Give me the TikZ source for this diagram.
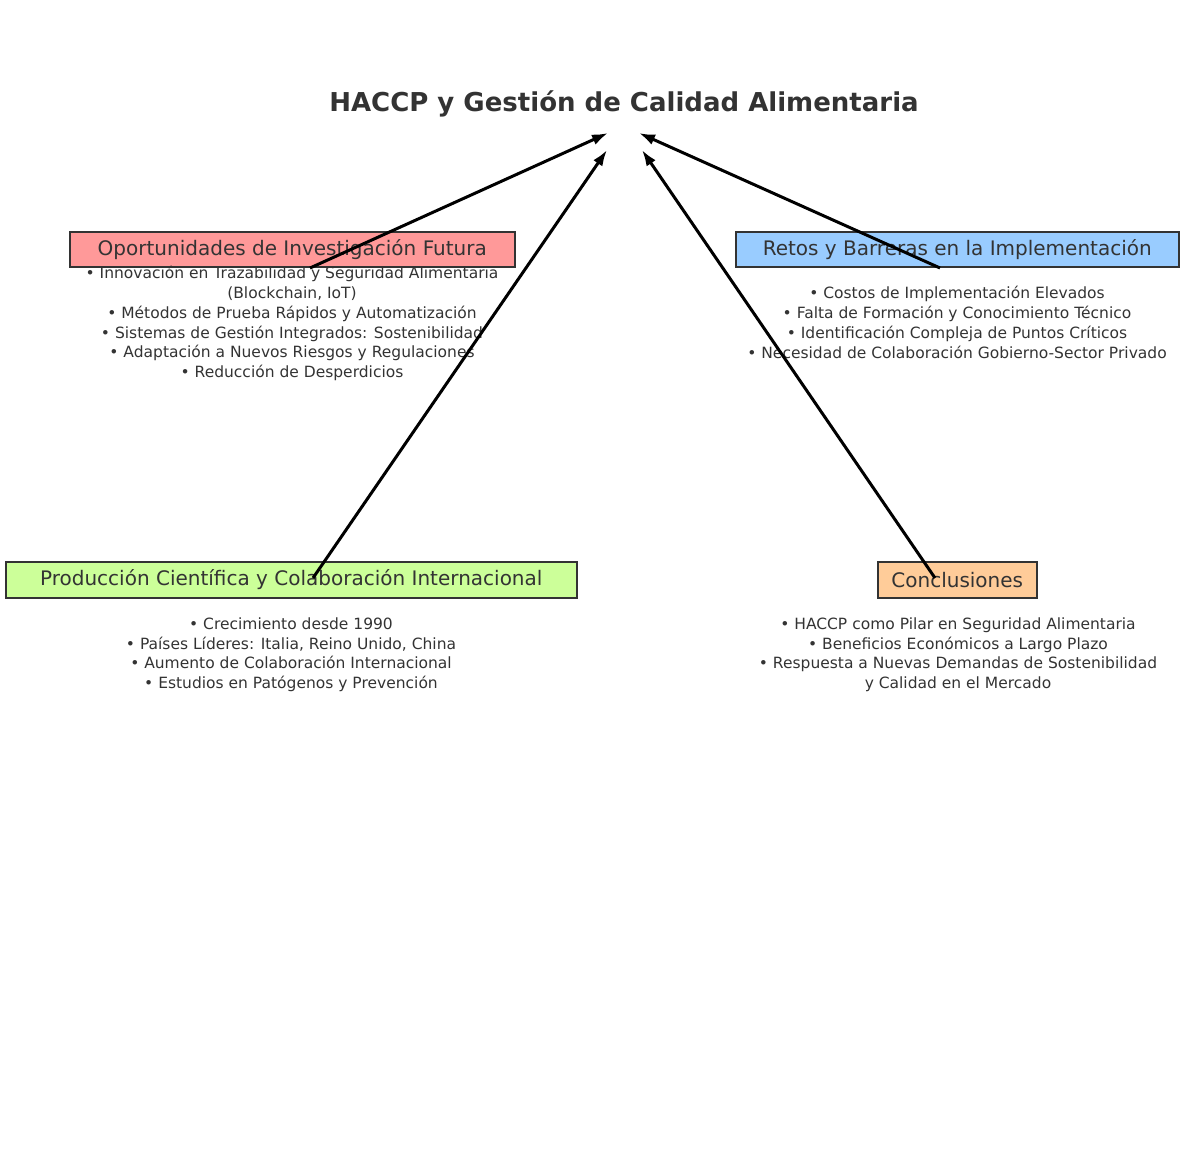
\documentclass[tikz,border=0pt]{standalone}
\usepackage{fontspec}
\setmainfont{DejaVu Sans}
\usetikzlibrary{arrows.meta}
\definecolor{txt}{HTML}{333333}
\begin{document}
\begin{tikzpicture}[x=1pt,y=-1pt,
  hdr/.style={draw=txt,line width=1.5pt,text=txt,font=\fontsize{20}{22}\selectfont,inner sep=0pt,anchor=north west},
  bul/.style={text=txt,font=\fontsize{15.5}{19.7}\selectfont,align=center,anchor=north},
  arr/.style={-{Latex[length=16pt,width=11pt]},line width=3pt,black}]
\useasboundingbox (0,0) rectangle (1200,1159);
\node[text=txt,font=\bfseries\fontsize{26}{30}\selectfont] (title) at (624,104) {HACCP y Gestión de Calidad Alimentaria};
\node[hdr,fill={rgb,255:red,255;green,153;blue,153},minimum width=445pt,minimum height=35pt] (opp) at (69,231) {};
\node[text=txt,font=\fontsize{20}{22}\selectfont] at (opp.center) {Oportunidades de Investigación Futura};
\node[hdr,fill={rgb,255:red,153;green,204;blue,255},minimum width=443pt,minimum height=35pt] (ret) at (735,231) {};
\node[text=txt,font=\fontsize{20}{22}\selectfont] at (ret.center) {Retos y Barreras en la Implementación};
\node[hdr,fill={rgb,255:red,204;green,255;blue,153},minimum width=571pt,minimum height=36pt] (prod) at (5,561) {};
\node[text=txt,font=\fontsize{20}{22}\selectfont] at (prod.center) {Producción Científica y Colaboración Internacional};
\node[hdr,fill={rgb,255:red,255;green,204;blue,153},minimum width=159pt,minimum height=36pt] (conc) at (877,561) {};
\node[text=txt,font=\fontsize{20}{22}\selectfont] at (conc.center) {Conclusiones};
\node[bul] (b1) at (292,263) {• Innovación en Trazabilidad y Seguridad Alimentaria\\(Blockchain, IoT)\\• Métodos de Prueba Rápidos y Automatización\\• Sistemas de Gestión Integrados: Sostenibilidad\\• Adaptación a Nuevos Riesgos y Regulaciones\\• Reducción de Desperdicios};
\node[bul] (b2) at (957,283) {• Costos de Implementación Elevados\\• Falta de Formación y Conocimiento Técnico\\• Identificación Compleja de Puntos Críticos\\• Necesidad de Colaboración Gobierno-Sector Privado};
\node[bul] (b3) at (291,614) {• Crecimiento desde 1990\\• Países Líderes: Italia, Reino Unido, China\\• Aumento de Colaboración Internacional\\• Estudios en Patógenos y Prevención};
\node[bul] (b4) at (958,614) {• HACCP como Pilar en Seguridad Alimentaria\\• Beneficios Económicos a Largo Plazo\\• Respuesta a Nuevas Demandas de Sostenibilidad\\y Calidad en el Mercado};
\coordinate (s1) at (310,268); \coordinate (e1) at (608,133);
\coordinate (s2) at (313,578); \coordinate (e2) at (607,150);
\coordinate (s3) at (940,268); \coordinate (e3) at (639,133);
\coordinate (s4) at (935,578); \coordinate (e4) at (642,150);
\draw[arr] (s1) -- (e1);
\draw[arr] (s2) -- (e2);
\draw[arr] (s3) -- (e3);
\draw[arr] (s4) -- (e4);
\end{tikzpicture}
\end{document}
